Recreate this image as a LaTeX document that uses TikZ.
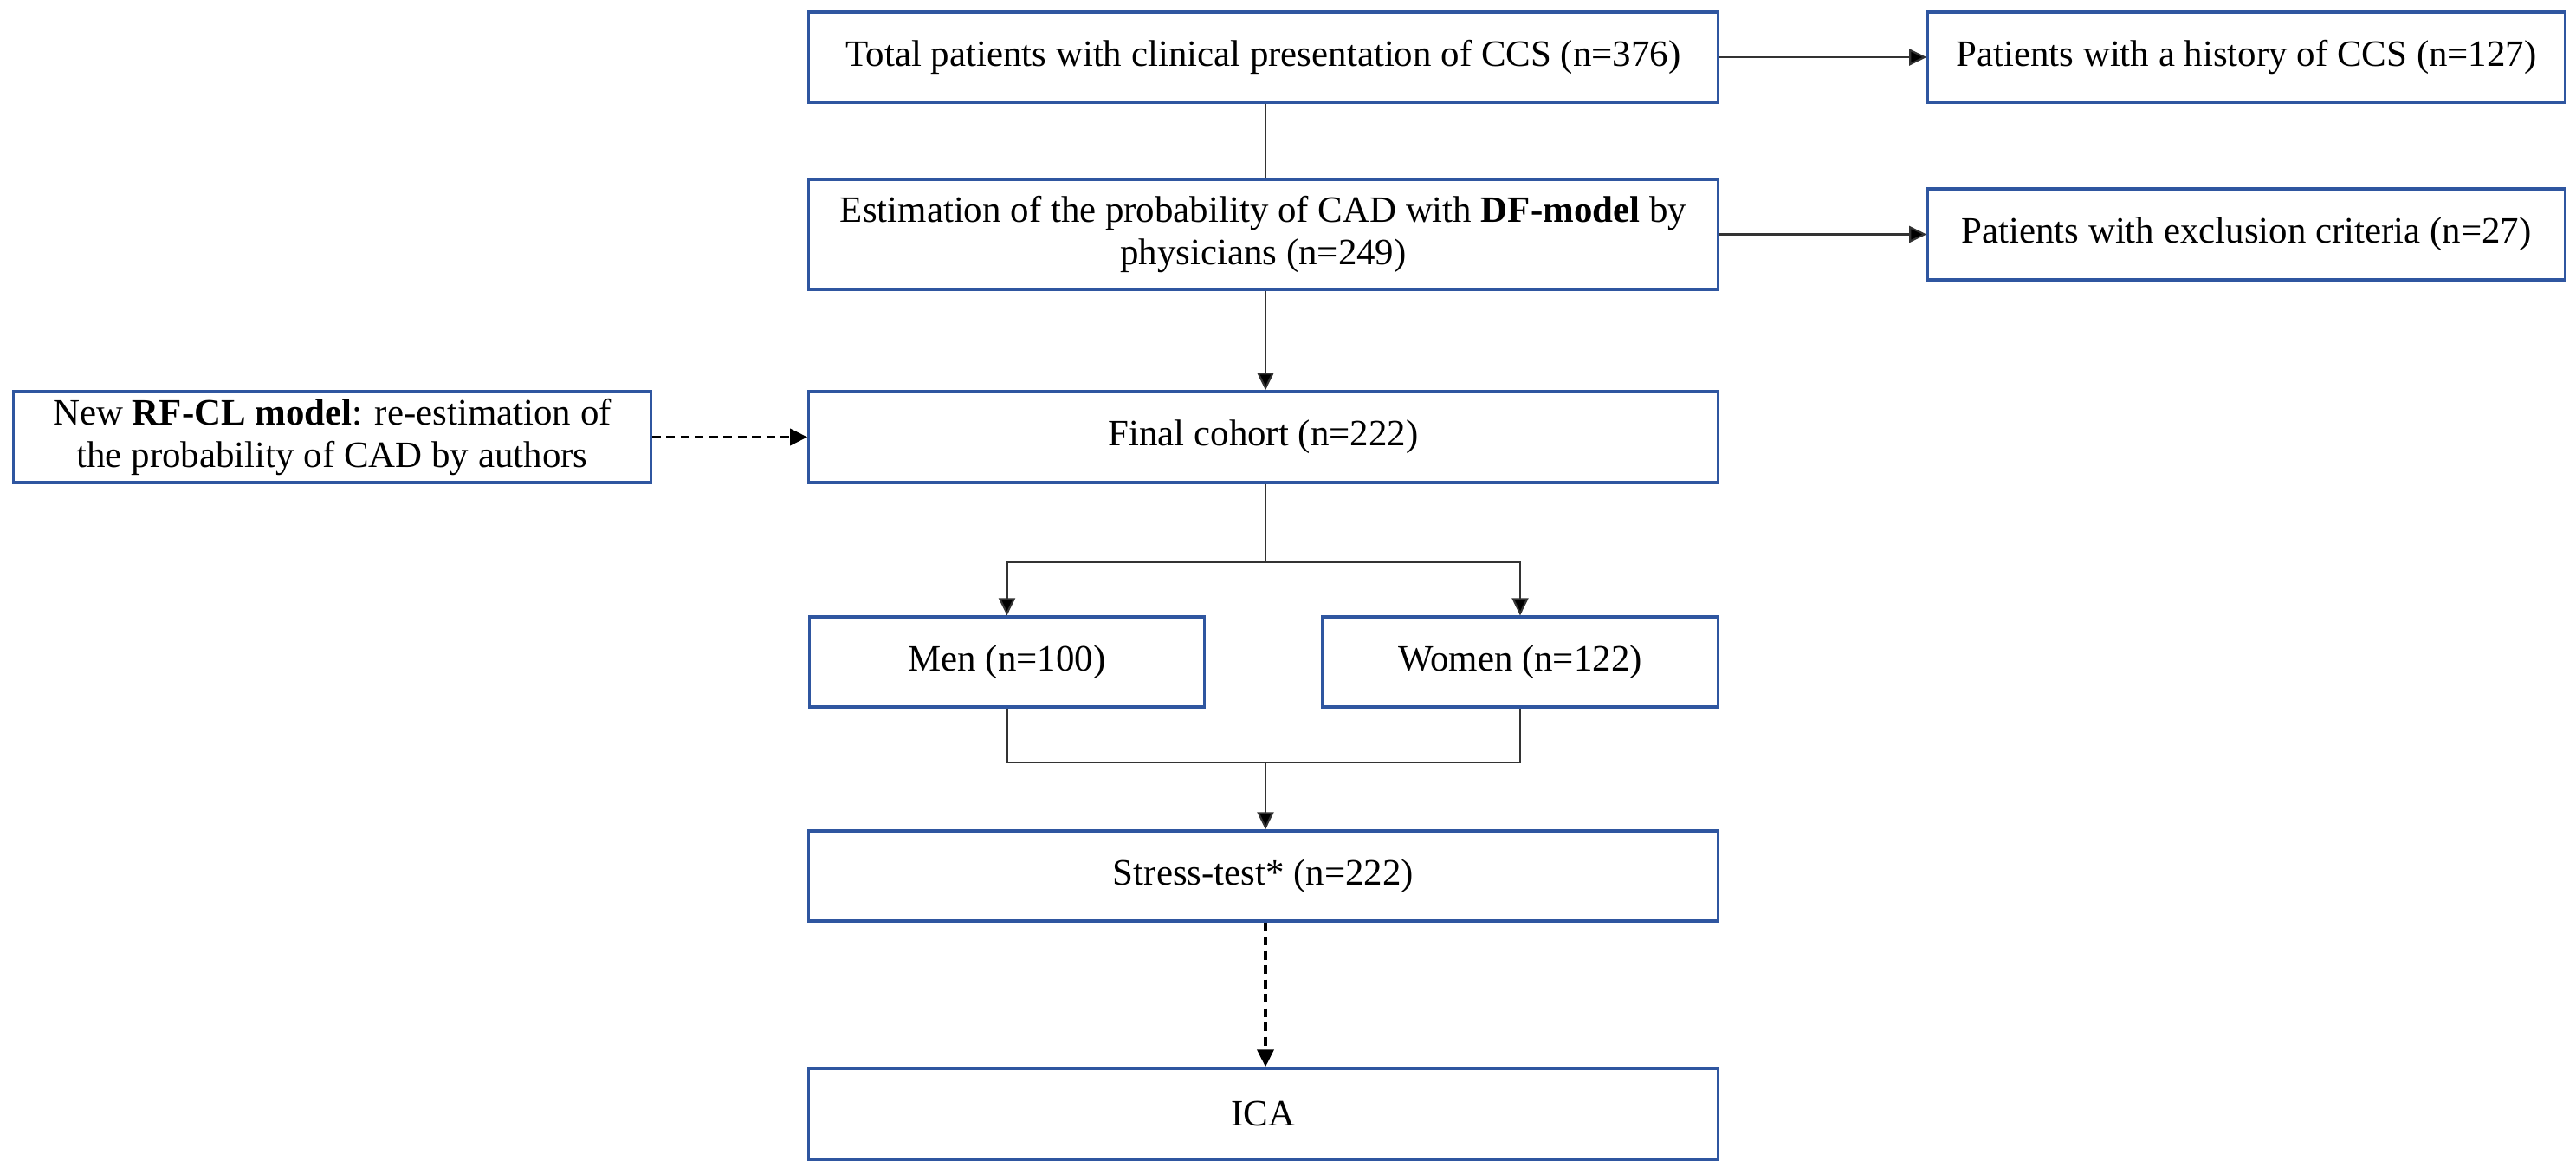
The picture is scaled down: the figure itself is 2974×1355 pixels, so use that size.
\documentclass[tikz,border=0pt]{standalone}
\usepackage{fontspec}
\setmainfont{Liberation Serif}
\usetikzlibrary{arrows.meta}
\definecolor{boxblue}{HTML}{2F56A0}
\definecolor{linegray}{HTML}{333333}
\begin{document}
\begin{tikzpicture}[x=0.01cm,y=-0.01cm,
  fbox/.style={draw=boxblue, line width=0.9pt, fill=white, align=center, inner sep=0pt,
    font=\fontsize{12.2}{13.8}\selectfont},
  conn/.style={draw=linegray, line width=0.6pt},
  arr/.style={conn, -{Triangle[length=2mm,width=1.9mm,fill=black]}},
  darr/.style={arr, draw=black, line width=1pt, dash pattern=on 0.1cm off 0.065cm}]
\useasboundingbox (0,0) rectangle (2974,1355);
\node[fbox, minimum width=10.49cm, minimum height=1.04cm] (top) at (1458.5,66) {Total patients with clinical presentation of CCS (n=376)};
\node[fbox, minimum width=7.35cm, minimum height=1.04cm] (hist) at (2593.5,66) {Patients with a history of CCS (n=127)};
\node[fbox, minimum width=10.49cm, minimum height=1.27cm] (est) at (1458.5,270.5) {Estimation of the probability of CAD with \textbf{DF-model} by\\physicians (n=249)};
\node[fbox, minimum width=7.35cm, minimum height=1.05cm] (excl) at (2593.5,270.5) {Patients with exclusion criteria (n=27)};
\node[fbox, minimum width=7.35cm, minimum height=1.05cm] (left) at (383.5,504.5) {New \textbf{RF-CL model}: re-estimation of\\the probability of CAD by authors};
\node[fbox, minimum width=10.49cm, minimum height=1.05cm] (final) at (1458.5,504.5) {Final cohort (n=222)};
\node[fbox, minimum width=4.55cm, minimum height=1.04cm] (men) at (1162.5,764) {Men (n=100)};
\node[fbox, minimum width=4.56cm, minimum height=1.04cm] (women) at (1755,764) {Women (n=122)};
\node[fbox, minimum width=10.49cm, minimum height=1.04cm] (stress) at (1458.5,1011) {Stress-test* (n=222)};
\node[fbox, minimum width=10.49cm, minimum height=1.05cm] (ica) at (1458.5,1285.5) {ICA};
\coordinate (branch) at (1461,649);
\coordinate (merge) at (1461,880);
\draw[conn] (top.south -| branch) -- (est.north -| branch);
\draw[arr] (top.east) -- (hist.west);
\draw[arr] (est.east) -- (excl.west);
\draw[arr] (est.south -| branch) -- (final.north -| branch);
\draw[darr] (left.east) -- (final.west);
\draw[conn] (final.south -| branch) -- (branch);
\draw[arr] (branch) -| (men.north);
\draw[arr] (branch) -| (women.north);
\draw[conn] (men.south) |- (merge) -| (women.south);
\draw[arr] (merge) -- (stress.north -| merge);
\draw[darr] (stress.south -| merge) -- (ica.north -| merge);
\end{tikzpicture}
\end{document}
